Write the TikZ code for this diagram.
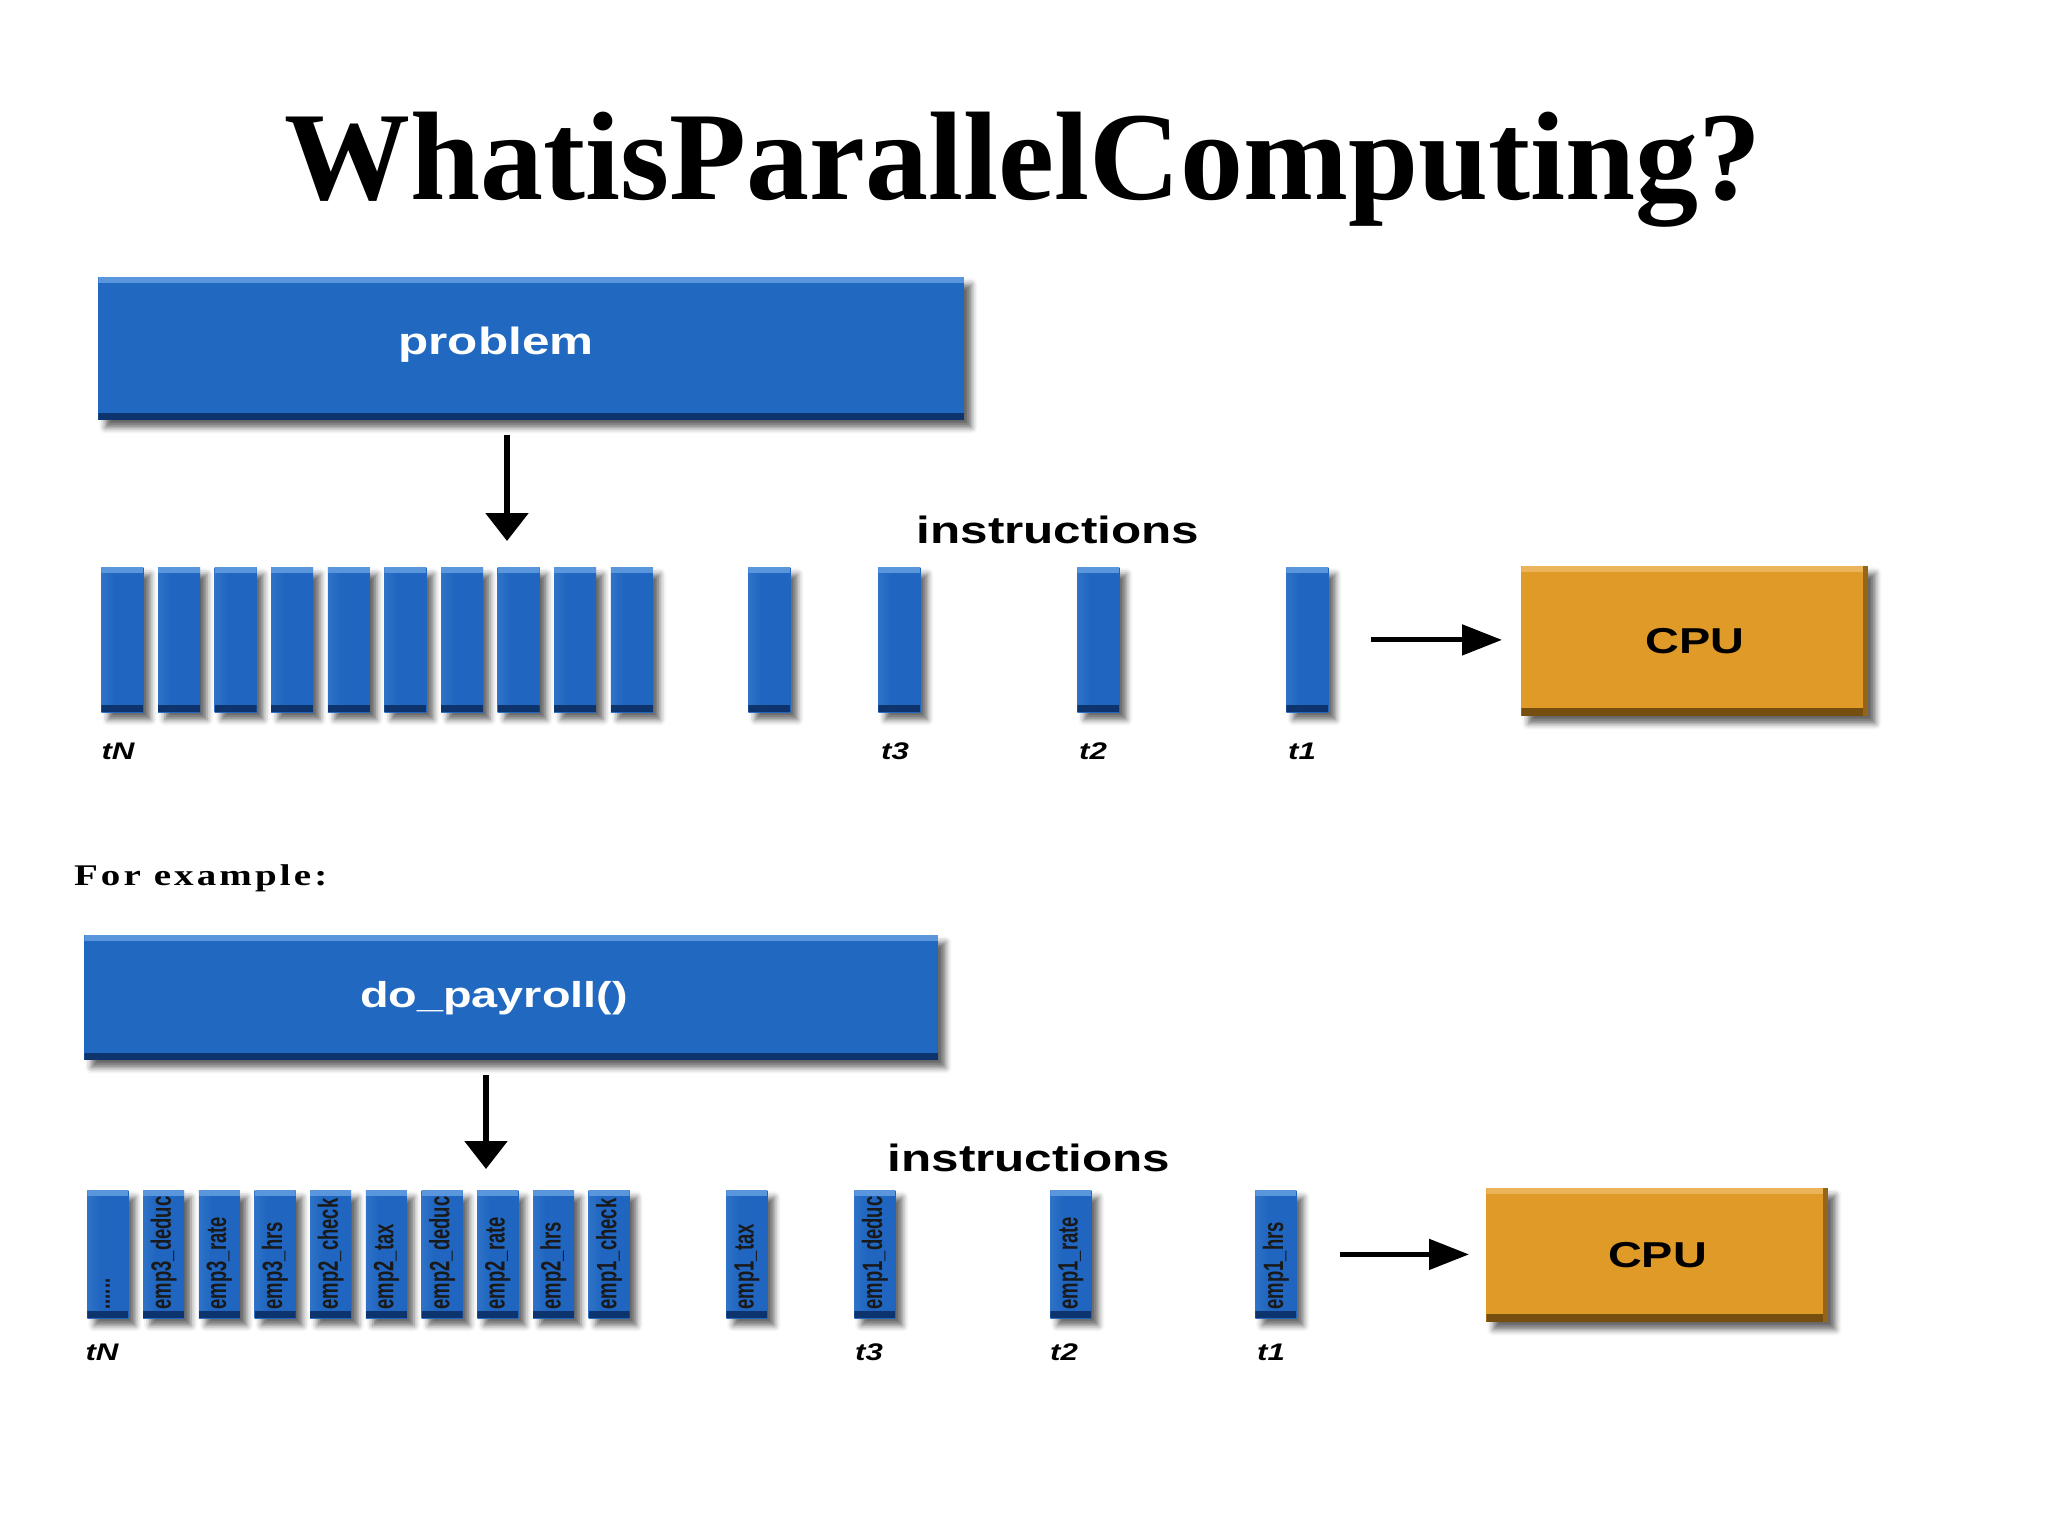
\documentclass[tikz,border=0pt]{standalone}
\usepackage{graphicx}
\usepackage{fontspec}
\setmainfont{Liberation Serif}
\setsansfont{Liberation Sans}
\usetikzlibrary{arrows.meta, positioning, shadows.blur}
\definecolor{boxblue}{RGB}{32,104,192}
\definecolor{boxtop}{RGB}{90,150,220}
\definecolor{barlight}{RGB}{72,136,212}
\definecolor{barmid}{RGB}{32,102,192}
\definecolor{bardark}{RGB}{14,52,110}
\definecolor{cpuorange}{RGB}{224,154,40}
\definecolor{cpulight}{RGB}{236,180,90}
\definecolor{cpudark}{RGB}{118,78,16}
\pgfdeclarehorizontalshading{barshade}{100bp}{color(0bp)=(barlight); color(40bp)=(barmid); color(78bp)=(barmid); color(100bp)=(bardark)}
\newcommand{\wide}[1]{\scalebox{1.3}[1]{#1}}
\newcommand{\narrow}[1]{\scalebox{0.66}[1]{#1}}

\tikzset{
  softshadow/.style={blur shadow={shadow xshift=3.5pt, shadow yshift=-3.5pt, shadow blur radius=3pt, shadow opacity=60}},
  bigbox/.style={anchor=north west, inner sep=0pt, fill=boxblue, softshadow,
    path picture={
      \fill[boxtop] (path picture bounding box.north west) rectangle ([yshift=-3pt]path picture bounding box.north east);
      \fill[bardark] (path picture bounding box.south west) rectangle ([yshift=3.5pt]path picture bounding box.south east);}},
  cpubox/.style={anchor=north west, inner sep=0pt, fill=cpuorange, softshadow,
    font=\sffamily\bfseries\fontsize{18}{18}\selectfont,
    path picture={
      \fill[cpulight] (path picture bounding box.north west) rectangle ([yshift=-3pt]path picture bounding box.north east);
      \fill[cpudark] (path picture bounding box.south west) rectangle ([yshift=4pt]path picture bounding box.south east);
      \fill[cpudark!70!cpuorange] (path picture bounding box.south east) rectangle ([xshift=-2.5pt]path picture bounding box.north east);}},
  bar/.style={anchor=north west, inner sep=0pt, minimum width=21pt, shading=barshade, softshadow,
    path picture={
      \fill[boxtop] (path picture bounding box.north west) rectangle ([yshift=-3pt]path picture bounding box.north east);
      \fill[bardark] (path picture bounding box.south west) rectangle ([yshift=3.5pt]path picture bounding box.south east);}},
  boxtext/.style={text=white, font=\sffamily\bfseries\fontsize{19}{19}\selectfont},
  headtext/.style={font=\sffamily\bfseries\fontsize{19}{19}\selectfont},
  tlabel/.style={font=\sffamily\bfseries\itshape\fontsize{12}{12}\selectfont},
  barlbl/.style={rotate=90, anchor=west, inner sep=0pt, text=black!90,
    font=\sffamily\bfseries\fontsize{14}{14}\selectfont},
  darrow/.style={line width=2.8pt, -{Triangle[length=14pt,width=21pt]}},
  rarrow/.style={line width=2.5pt, -{Triangle[length=20pt,width=15pt]}}
}

\begin{document}
\begin{tikzpicture}[x=0.5pt, y=-0.5pt]
  \useasboundingbox (0,0) rectangle (2048,1536);

  % title
  \node[anchor=base, font=\bfseries\fontsize{63}{63}\selectfont] (title) at (1023,199) {WhatisParallelComputing?};

  % upper diagram
  \node[bigbox, minimum width=433pt, minimum height=71.5pt] (problem) at (98,277) {};
  \node[boxtext] (problemtxt) at (496,345) {\wide{problem}};

  \foreach \i in {0,...,9}
    \node[bar, minimum height=72.5pt] (a\i) at (101+56.6*\i,567) {};
  \node[bar, minimum height=72.5pt] (a10) at (748,567) {};
  \node[bar, minimum height=72.5pt] (a11) at (878,567) {};
  \node[bar, minimum height=72.5pt] (a12) at (1077,567) {};
  \node[bar, minimum height=72.5pt] (a13) at (1286,567) {};

  \node[headtext] (instra) at (1058,530) {\wide{instructions}};
  \node[tlabel] (tNa) at (118,751) {\wide{tN}};
  \node[tlabel] (t3a) at (895,751) {\wide{t3}};
  \node[tlabel] (t2a) at (1093,751) {\wide{t2}};
  \node[tlabel] (t1a) at (1302,751) {\wide{t1}};

  \node[cpubox, minimum width=173.5pt, minimum height=75pt] (cpua) at (1521,566) {\wide{CPU}};

  \coordinate (downa) at (507,435);
  \draw[darrow, shorten >=13pt] (downa) -- (downa |- a7.north);
  \draw[rarrow, shorten <=21pt, shorten >=9.5pt] (a13.east) -- (a13.east -| cpua.west);

  % lower diagram
  \node[anchor=base west, font=\bfseries\fontsize{15}{15}\selectfont\addfontfeature{LetterSpace=8}] (example) at (67,885) {\scalebox{1.3}[1]{For example:}};

  \node[bigbox, minimum width=427pt, minimum height=62.5pt] (payroll) at (84,935) {};
  \node[boxtext, font=\sffamily\bfseries\fontsize{18}{18}\selectfont] (payrolltxt) at (494,998) {\wide{do\_payroll()}};

  \foreach \i/\txt in {0/{......}, 1/emp3\_deduc, 2/emp3\_rate, 3/emp3\_hrs, 4/emp2\_check,
                       5/emp2\_tax, 6/emp2\_deduc, 7/emp2\_rate, 8/emp2\_hrs, 9/emp1\_check} {
    \node[bar, minimum width=20.5pt, minimum height=64pt] (b\i) at (87+55.7*\i,1190) {};
    \node[barlbl] (l\i) at ([yshift=4.5pt]b\i.south) {\narrow{\txt}};
  }
  \foreach \i/\x/\txt in {10/726/emp1\_tax, 11/854/emp1\_deduc, 12/1050/emp1\_rate, 13/1255/emp1\_hrs} {
    \node[bar, minimum width=20.5pt, minimum height=64pt] (b\i) at (\x,1190) {};
    \node[barlbl] (l\i) at ([yshift=4.5pt]b\i.south) {\narrow{\txt}};
  }

  \node[headtext] (instrb) at (1029,1158) {\wide{instructions}};
  \node[tlabel] (tNb) at (102,1352) {\wide{tN}};
  \node[tlabel] (t3b) at (869,1352) {\wide{t3}};
  \node[tlabel] (t2b) at (1064,1352) {\wide{t2}};
  \node[tlabel] (t1b) at (1271,1352) {\wide{t1}};

  \node[cpubox, minimum width=171pt, minimum height=67pt] (cpub) at (1486,1188) {\wide{CPU}};

  \coordinate (downb) at (486,1075);
  \draw[darrow, shorten >=10.5pt] (downb) -- (downb |- b7.north);
  \draw[rarrow, shorten <=21.5pt, shorten >=8.5pt] (b13.east) -- (b13.east -| cpub.west);
\end{tikzpicture}
\end{document}
